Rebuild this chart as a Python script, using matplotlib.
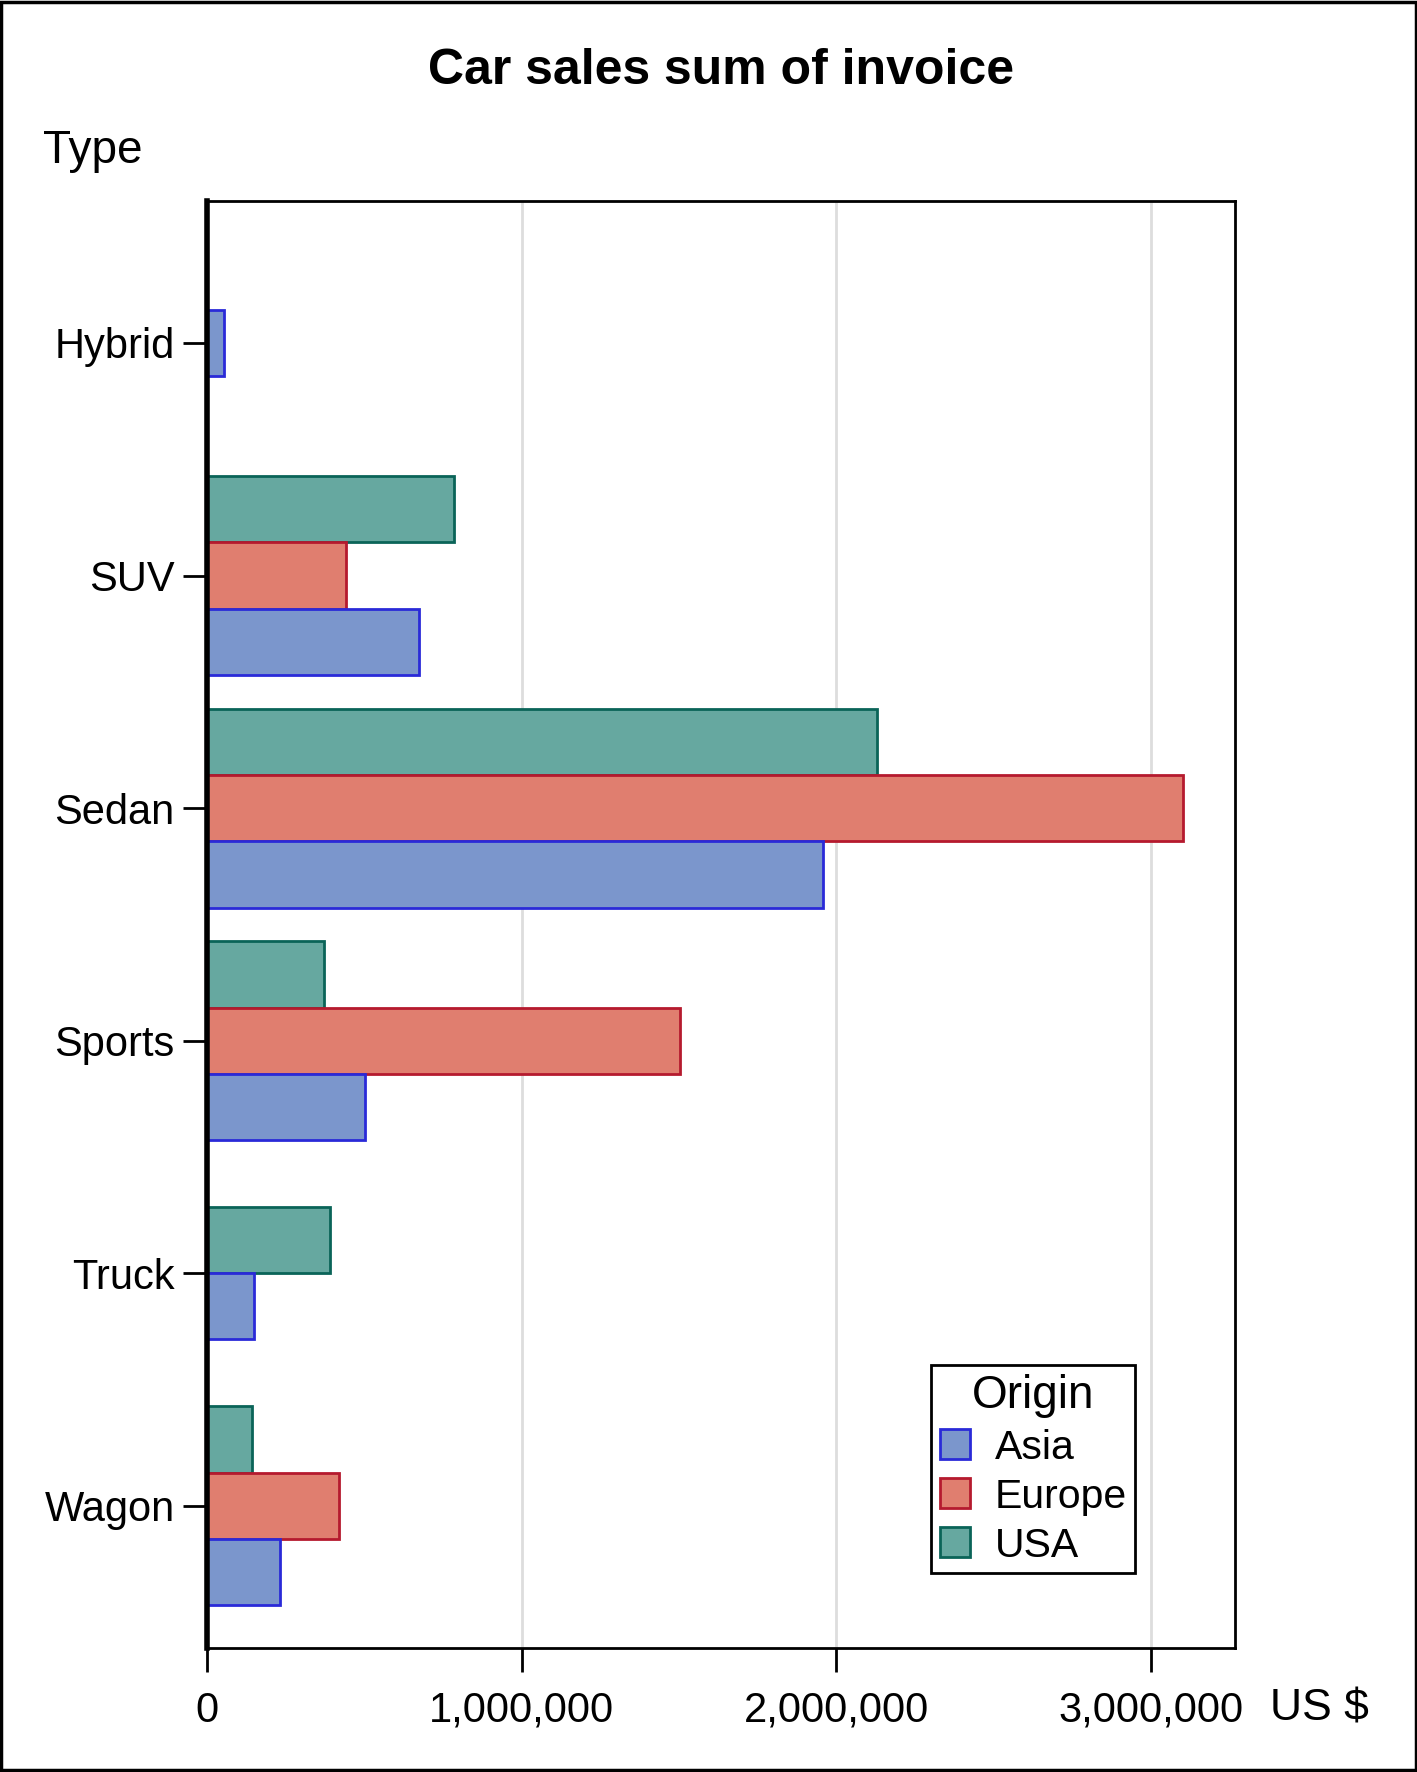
import matplotlib.pyplot as plt
from matplotlib.patches import Rectangle, Patch
from matplotlib.ticker import FuncFormatter

plt.rcParams['font.family'] = ['Liberation Sans', 'DejaVu Sans']

types = ['Hybrid', 'SUV', 'Sedan', 'Sports', 'Truck', 'Wagon']
origins = ['USA', 'Europe', 'Asia']   # top to bottom inside each cluster
asia = [54000, 673000, 1957000, 504000, 151000, 234000]
europe = [None, 442000, 3101000, 1504000, None, 421000]
usa = [None, 784000, 2129000, 371000, 392000, 144000]
values = {'Asia': asia, 'Europe': europe, 'USA': usa}

fills = {'Asia': '#7B96CC', 'Europe': '#E07E6F', 'USA': '#66A8A0'}
edges = {'Asia': '#2A2AD8', 'Europe': '#B51A2E', 'USA': '#0A6458'}

fig = plt.figure(figsize=(14.17, 17.72), dpi=100)
ax = fig.add_axes([0.1459, 0.0702, 0.8716 - 0.1459, 0.8865 - 0.0702])

h = 0.285
for i, t in enumerate(types):
    present = [o for o in origins if values[o][i] is not None]
    n = len(present)
    for k, o in enumerate(present):
        y = i + (k - (n - 1) / 2) * h
        ax.barh(y, values[o][i], height=h, color=fills[o], edgecolor=edges[o],
                linewidth=2, zorder=3)

ax.set_ylim(5.61, -0.61)
ax.set_xlim(0, 3266000)
ax.set_yticks(range(len(types)))
ax.set_yticklabels(types)
ax.set_xticks([0, 1000000, 2000000, 3000000])
ax.xaxis.set_major_formatter(FuncFormatter(lambda v, p: f'{int(v):,}'))
ax.tick_params(axis='both', labelsize=30, length=17, width=2, direction='out')
ax.tick_params(axis='x', pad=14)
ax.tick_params(axis='y', pad=6)
ax.grid(axis='x', color='#DDDDDD', linewidth=2, zorder=0)
ax.set_axisbelow(True)
for s in ax.spines.values():
    s.set_linewidth(2)
ax.spines['left'].set_linewidth(4)
ax.spines['left'].set_zorder(5)

fig.text(0.5088, 0.9600, 'Car sales sum of invoice', ha='center', va='center',
         fontsize=36, fontweight='bold')
fig.text(0.030, 0.915, 'Type', ha='left', va='center', fontsize=33)
ax.text(1.034, -0.028, 'US $', transform=ax.transAxes, ha='left', va='top',
        fontsize=32)

handles = [Patch(facecolor=fills[o], edgecolor=edges[o], linewidth=2, label=o)
           for o in ['Asia', 'Europe', 'USA']]
leg = ax.legend(handles=handles, title='Origin', loc='lower right',
                bbox_to_anchor=(0.903, 0.0516), borderaxespad=0, fontsize=29.5,
                title_fontsize=33, handlelength=0.75, handleheight=0.75,
                handletextpad=0.6, labelspacing=0.27, borderpad=0.2,
                fancybox=False, framealpha=1, edgecolor='black')
leg.get_frame().set_linewidth(2)

fig.patches.append(Rectangle((0.001, 0.001), 0.998, 0.998, transform=fig.transFigure,
                             fill=False, edgecolor='black', linewidth=2.5))

fig.savefig('out.png', dpi=100)
